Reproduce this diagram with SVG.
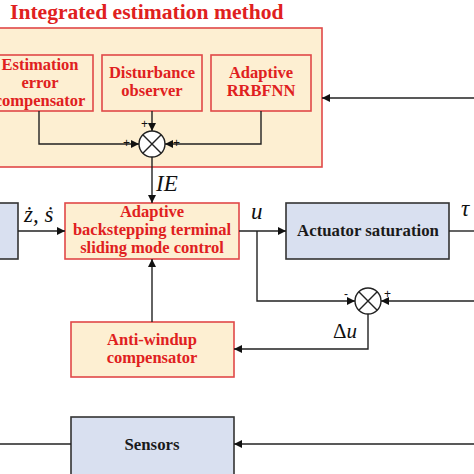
<svg xmlns="http://www.w3.org/2000/svg" width="474" height="474" viewBox="0 0 474 474">
<style>
.ob{fill:#FDEFD2;stroke:#E04848;stroke-width:1.6}
.ib{fill:#FDEFD2;stroke:#E04848;stroke-width:1.6}
.bb{fill:#D9E0F0;stroke:#333;stroke-width:1.6}
.rt{font-family:"Liberation Serif","DejaVu Serif",serif;font-weight:bold;font-size:16.5px;fill:#E02020;text-anchor:middle}
.kt{font-family:"Liberation Serif","DejaVu Serif",serif;font-weight:bold;font-size:16.8px;fill:#1a1a1a;text-anchor:middle}
.mt{font-family:"Liberation Serif","DejaVu Serif",serif;font-style:italic;font-size:23px;fill:#111}
.sg{font-family:"Liberation Sans",sans-serif;font-size:12px;fill:#111}
.ln{fill:none;stroke:#222;stroke-width:1.4}
.cr{fill:#fff;stroke:#222;stroke-width:1.4}
</style>
<defs>
<marker id="ar" viewBox="0 0 10 10" refX="10" refY="5" markerWidth="8" markerHeight="8" markerUnits="userSpaceOnUse" orient="auto">
<path d="M0,0 L10,5 L0,10 z" fill="#111"/>
</marker>
</defs>
<rect width="474" height="474" fill="#fff"/>
<text x="10" y="19" font-family="Liberation Serif, serif" font-weight="bold" font-size="21.6" fill="#E02020">Integrated estimation method</text>
<g id="integrated">
<rect class="ob" x="-5" y="28" width="327" height="139"/>
</g>
<g id="est-err">
<rect class="ib" x="-12" y="55" width="105" height="56"/>
<text class="rt" x="40" y="70">Estimation</text>
<text class="rt" x="40" y="88">error</text>
<text class="rt" x="40" y="106">compensator</text>
</g>
<g id="dist-obs">
<rect class="ib" x="102" y="55" width="100" height="56"/>
<text class="rt" x="152" y="78">Disturbance</text>
<text class="rt" x="152" y="96">observer</text>
</g>
<g id="rrbfnn">
<rect class="ib" x="211" y="55" width="100" height="56"/>
<text class="rt" x="261" y="78">Adaptive</text>
<text class="rt" x="261" y="96">RRBFNN</text>
</g>
<g id="sum1">
<circle class="cr" cx="152" cy="144" r="13"/>
<path class="ln" d="M142.8,134.8 L161.2,153.2 M161.2,134.8 L142.8,153.2"/>
</g>
<g id="abtsmc">
<rect class="ib" x="65" y="203" width="174" height="56"/>
<text class="rt" x="152" y="217">Adaptive</text>
<text class="rt" x="152" y="235">backstepping terminal</text>
<text class="rt" x="152" y="253">sliding mode control</text>
</g>
<g id="left-block">
<rect class="bb" x="-10" y="203" width="28" height="56"/>
</g>
<g id="actuator">
<rect class="bb" x="286" y="203" width="163" height="56"/>
<text class="kt" x="368" y="236">Actuator saturation</text>
</g>
<g id="sum2">
<circle class="cr" cx="368" cy="301" r="13"/>
<path class="ln" d="M358.8,291.8 L377.2,310.2 M377.2,291.8 L358.8,310.2"/>
</g>
<g id="antiwindup">
<rect class="ib" x="71" y="322" width="163" height="55"/>
<text class="rt" x="152" y="345">Anti-windup</text>
<text class="rt" x="152" y="363">compensator</text>
</g>
<g id="sensors">
<rect class="bb" x="71" y="417" width="163" height="58"/>
<text class="kt" x="152" y="450">Sensors</text>
</g>
<g id="connectors">
<path class="ln" d="M39,111 V144 H139" marker-end="url(#ar)"/>
<path class="ln" d="M152,111 V131" marker-end="url(#ar)"/>
<path class="ln" d="M261,111 V144 H165" marker-end="url(#ar)"/>
<path class="ln" d="M152,157 V203" marker-end="url(#ar)"/>
<path class="ln" d="M474,98 H322" marker-end="url(#ar)"/>
<path class="ln" d="M18,231 H65" marker-end="url(#ar)"/>
<path class="ln" d="M239,231 H286" marker-end="url(#ar)"/>
<path class="ln" d="M449,231 H474"/>
<path class="ln" d="M257,231 V301 H355" marker-end="url(#ar)"/>
<path class="ln" d="M474,301 H381" marker-end="url(#ar)"/>
<path class="ln" d="M368,314 V349 H234" marker-end="url(#ar)"/>
<path class="ln" d="M152,322 V259" marker-end="url(#ar)"/>
<path class="ln" d="M0,444 H71"/>
<path class="ln" d="M474,444 H234" marker-end="url(#ar)"/>
</g>
<text class="sg" x="141" y="128">+</text>
<text class="sg" x="123" y="147">+</text>
<text class="sg" x="173" y="147">+</text>
<text class="sg" x="344" y="298">-</text>
<text class="sg" x="384" y="298">+</text>
<text class="mt" x="156" y="191">IE</text>
<text class="mt" x="24" y="222">ż, ṡ</text>
<text class="mt" x="251" y="219">u</text>
<text class="mt" x="461" y="216">τ</text>
<text x="333" y="338" font-family="Liberation Serif, serif" font-size="21" fill="#111">Δ<tspan font-style="italic">u</tspan></text>
</svg>
